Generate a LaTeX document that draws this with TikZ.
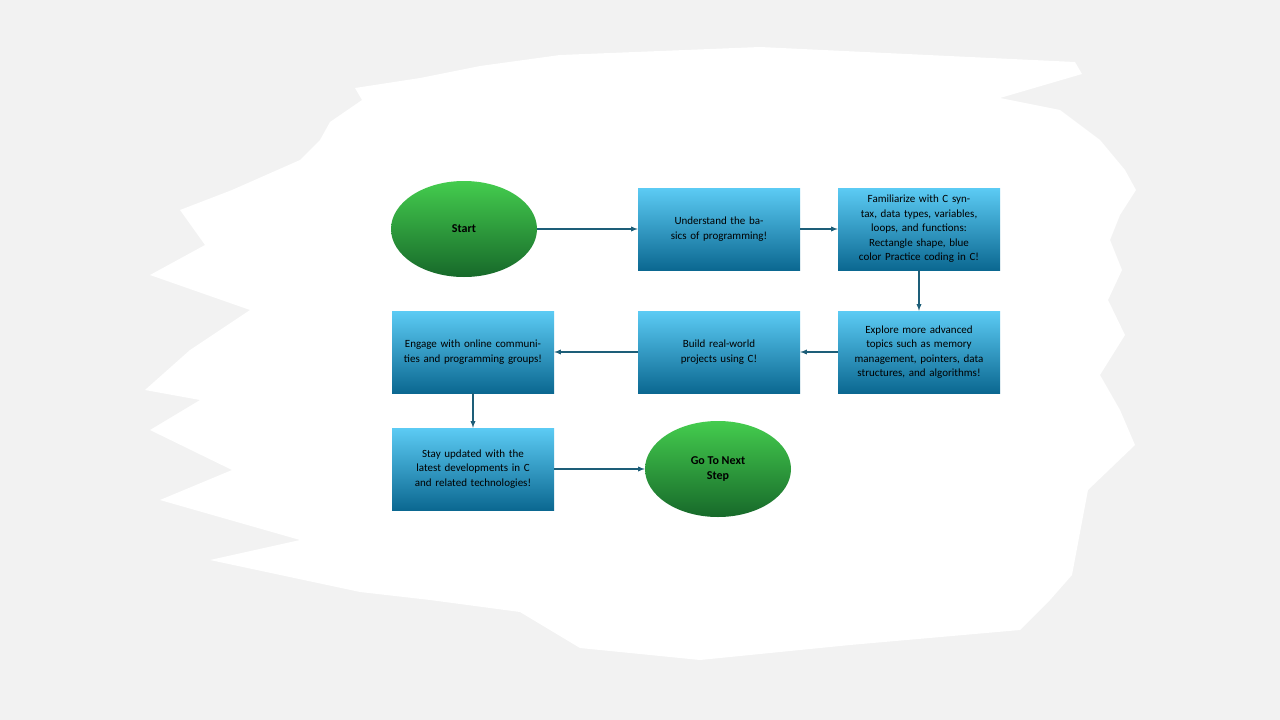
\documentclass[tikz,border=0pt]{standalone}
\usepackage{fontspec}
\setmainfont{Carlito}
\usetikzlibrary{positioning}
\usetikzlibrary{shapes.geometric}
\definecolor{bgrey}{HTML}{F2F2F2}
\definecolor{boxtop}{HTML}{5CCBF4}
\definecolor{boxbot}{HTML}{0B6891}
\definecolor{ovtop}{HTML}{44CC4E}
\definecolor{ovbot}{HTML}{17692A}
\definecolor{arrowc}{HTML}{1D5E78}

\begin{document}
\begin{tikzpicture}[
        x=1pt, y=-1pt,
        stepbox/.style = {
            rectangle,
            top color=boxtop,
            bottom color=boxbot,
            minimum width = 162pt,
            minimum height = 82pt,
            text width = 142pt,
            align = center,
            font = \fontsize{11}{14.5}\selectfont,
            inner sep = 0pt
        },
        term/.style = {
            ellipse,
            top color=ovtop,
            bottom color=ovbot,
            minimum width = 146pt,
            minimum height = 96pt,
            align = center,
            font = \fontsize{12}{15}\selectfont\bfseries,
            inner sep = 0pt
        },
        link/.style = {
            draw = arrowc,
            line width = 1.3pt,
            -latex
        }
            ]
            \fill[bgrey] (0,0) rectangle (1280,720);
            \useasboundingbox (0,0) rectangle (1280,720);
            % brush background
            \fill[white] (355,88) -- (420,78) -- (480,66) -- (560,55) -- (760,47) -- (1075,62)
                -- (1082,74) -- (1000,98) -- (1060,110) -- (1100,140) -- (1125,170) -- (1136,190)
                -- (1120,215) -- (1110,240) -- (1122,270) -- (1108,300) -- (1125,335) -- (1100,375)
                -- (1120,410) -- (1135,445) -- (1088,490) -- (1072,575) -- (1050,600) -- (1020,630)
                -- (850,645) -- (700,660) -- (580,648) -- (520,612) -- (430,600) -- (360,592)
                -- (210,560) -- (300,540) -- (160,500) -- (232,470) -- (150,430) -- (200,400)
                -- (145,390) -- (190,350) -- (250,310) -- (150,275) -- (205,245) -- (180,210)
                -- (232,190) -- (300,160) -- (320,140) -- (330,122) -- (362,100) -- cycle;

            \node[term] (start) at (464,229) {Start};
            \node[stepbox] (basics) at (719,229) {Understand the basics of programming!};
            \node[stepbox] (syntax) at (919,229) {Familiarize with C syntax, data types, variables, loops, and functions: Rectangle shape, blue color Practice coding in C!};
            \node[stepbox] (advanced) at (919,352) {Explore more advanced topics such as memory management, pointers, data structures, and algorithms!};
            \node[stepbox] (projects) at (719,352) {Build real-world projects using C!};
            \node[stepbox] (community) at (473,352) {Engage with online communities and programming groups!};
            \node[stepbox] (updated) at (473,469) {Stay updated with the latest developments in C and related technologies!};
            \node[term] (next) at (718,469) {Go To Next\\Step};

            \draw[link] (start) -- (basics);
            \draw[link] (basics) -- (syntax);
            \draw[link] (syntax) -- (advanced);
            \draw[link] (advanced) -- (projects);
            \draw[link] (projects) -- (community);
            \draw[link] (community) -- (updated);
            \draw[link] (updated) -- (next);

        \end{tikzpicture}
\end{document}
